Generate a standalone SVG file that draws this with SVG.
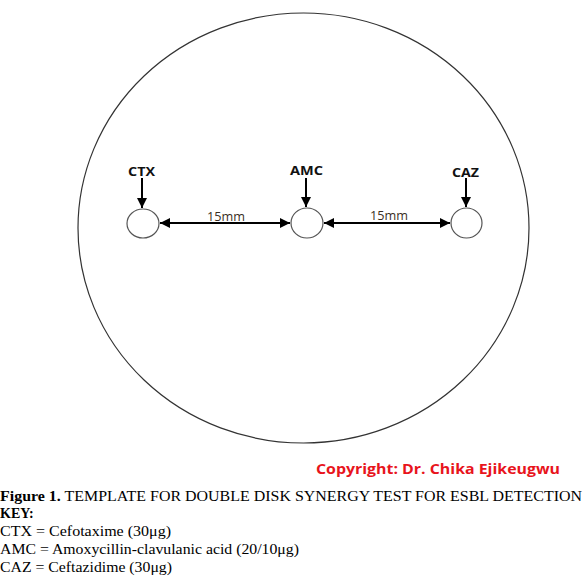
<svg xmlns="http://www.w3.org/2000/svg" width="585" height="577" viewBox="0 0 585 577">
<defs>
<style>
.plate{fill:none;stroke:#333;stroke-width:1.2}
.disk{fill:#fff;stroke:#555;stroke-width:1.2}
.lbl{font-family:"Open Sans","Liberation Sans",Arial,sans-serif;font-weight:bold;font-size:13px;fill:#111}
.dist{font-family:"Open Sans","Liberation Sans",Arial,sans-serif;font-size:12.5px;fill:#3a2e1e}
.cap{font-family:"Liberation Serif","Times New Roman",serif;font-size:14px;fill:#000}
.b{font-weight:bold}
.copy{font-family:"Open Sans","Liberation Sans",sans-serif;font-weight:bold;font-size:15px;fill:#e8141c}
.arr{stroke:#000;stroke-width:2;fill:none}
</style>
<marker id="ah" viewBox="0 0 10 10" refX="10" refY="5" markerWidth="5.5" markerHeight="5" orient="auto-start-reverse" markerUnits="strokeWidth">
<path d="M0,0 L10,5 L0,10 z" fill="#000"/>
</marker>
</defs>
<rect width="585" height="577" fill="#fff"/>
<ellipse id="plate" class="plate" cx="303.5" cy="228" rx="225.5" ry="215"/>
<g id="connectors">
<line class="arr" x1="142" y1="178" x2="142" y2="208" marker-end="url(#ah)"/>
<line class="arr" x1="306" y1="178" x2="306" y2="207" marker-end="url(#ah)"/>
<line class="arr" x1="466" y1="178" x2="466" y2="207" marker-end="url(#ah)"/>
<line class="arr" x1="160" y1="223" x2="290" y2="223" marker-start="url(#ah)" marker-end="url(#ah)"/>
<line class="arr" x1="324" y1="223" x2="450" y2="223" marker-start="url(#ah)" marker-end="url(#ah)"/>
<text class="dist" x="207" y="221" textLength="38" lengthAdjust="spacingAndGlyphs">15mm</text>
<text class="dist" x="370" y="220" textLength="38" lengthAdjust="spacingAndGlyphs">15mm</text>
</g>
<g id="ctx">
<ellipse class="disk" cx="143" cy="223.5" rx="16" ry="14.5"/>
<text class="lbl" x="128" y="176" textLength="27" lengthAdjust="spacingAndGlyphs">CTX</text>
</g>
<g id="amc">
<ellipse class="disk" cx="307" cy="223" rx="16" ry="15"/>
<text class="lbl" x="290" y="175" textLength="33" lengthAdjust="spacingAndGlyphs">AMC</text>
</g>
<g id="caz">
<ellipse class="disk" cx="466.5" cy="223" rx="15.5" ry="15"/>
<text class="lbl" x="452" y="177" textLength="27" lengthAdjust="spacingAndGlyphs">CAZ</text>
</g>
<text class="copy" x="316" y="474" textLength="244" lengthAdjust="spacingAndGlyphs">Copyright: Dr. Chika Ejikeugwu</text>
<text class="cap" x="0" y="501" textLength="582" lengthAdjust="spacingAndGlyphs"><tspan class="b">Figure 1.</tspan> TEMPLATE FOR DOUBLE DISK SYNERGY TEST FOR ESBL DETECTION</text>
<text class="cap b" x="0" y="518">KEY:</text>
<text class="cap" x="0" y="536" textLength="171" lengthAdjust="spacingAndGlyphs">CTX = Cefotaxime (30μg)</text>
<text class="cap" x="0" y="554" textLength="299" lengthAdjust="spacingAndGlyphs">AMC = Amoxycillin-clavulanic acid (20/10μg)</text>
<text class="cap" x="0" y="572" textLength="172" lengthAdjust="spacingAndGlyphs">CAZ = Ceftazidime (30μg)</text>
</svg>
